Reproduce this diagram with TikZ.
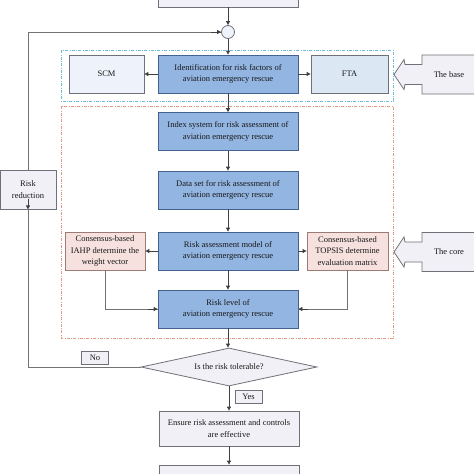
\documentclass[tikz,border=0pt]{standalone}
\usepackage{fontspec}
\setmainfont{Liberation Serif}
\usetikzlibrary{arrows.meta,shapes.geometric}

\definecolor{bluemid}{HTML}{93B5E2}
\definecolor{blueline}{HTML}{42638F}
\definecolor{bluepale}{HTML}{EEF3FB}
\definecolor{bluelight}{HTML}{DCE7F4}
\definecolor{pinkfill}{HTML}{F6E1DF}
\definecolor{pinkline}{HTML}{9C7A76}
\definecolor{lavfill}{HTML}{F1F0F6}
\definecolor{greyline}{HTML}{707078}
\definecolor{cyanframe}{HTML}{6FBFDB}
\definecolor{orangeframe}{HTML}{E59C86}

\tikzset{every node/.style={font=\fontsize{8.5}{11.3}\selectfont, align=center, inner sep=1pt, text=black!90},
    mainbox/.style={draw=blueline, fill=bluemid, line width=0.8pt,
        minimum width=140pt, minimum height=38pt},
    sidebox/.style={draw=greyline, line width=0.8pt, minimum height=38pt},
    methodbox/.style={draw=pinkline, fill=pinkfill, line width=0.8pt,
        minimum width=80pt, minimum height=38pt},
    lavbox/.style={draw=greyline, fill=lavfill, line width=0.8pt},
    tagbox/.style={draw=greyline, fill=lavfill, line width=0.6pt,
        minimum width=27pt, minimum height=13pt},
    frame/.style={line width=0.6pt, dash pattern=on 3pt off 1.5pt on 0.6pt off 1.5pt},
    arr/.style={draw=black!75, line width=0.8pt, -{Triangle[length=4pt,width=4pt]}},
    line/.style={draw=black!55, line width=1pt},
    }

\begin{document}
\begin{tikzpicture}[x=1pt,y=-1pt]
\useasboundingbox (0,0) rectangle (474,474);

% frames
\draw[frame, cyanframe] (61,50) rectangle (393,101);
\draw[frame, orangeframe] (61,106) rectangle (393,338);

% main column
\node[lavbox, minimum width=140pt, minimum height=38pt] (start) at (228,-12) {};
\node[circle, draw=greyline, fill=bluepale, line width=0.8pt, minimum size=13pt, inner sep=0pt] (join) at (228,32) {};
\node[mainbox] (ident) at (228,74) {Identification for risk factors of\\aviation emergency rescue};
\node[sidebox, fill=bluepale, minimum width=75pt] (scm) at (106.5,74) {SCM};
\node[sidebox, fill=bluelight, minimum width=77pt] (fta) at (349.5,74) {FTA};
\node[mainbox] (index) at (228,131.5) {Index system for risk assessment of\\aviation emergency rescue};
\node[mainbox] (dataset) at (228,190) {Data set for risk assessment of\\aviation emergency rescue};
\node[mainbox] (model) at (228,251) {Risk assessment model of\\aviation emergency rescue};
\node[methodbox] (iahp) at (105,251) {Consensus-based\\IAHP determine the\\weight vector};
\node[methodbox, minimum width=81pt] (topsis) at (347.5,251) {Consensus-based\\TOPSIS determine\\evaluation matrix};
\node[mainbox] (level) at (228,309) {Risk level of\\aviation emergency rescue};
\node[diamond, lavbox, aspect=4.6, minimum width=176pt, minimum height=38pt, inner sep=0pt] (tolerable) at (229,367) {Is the risk tolerable?};
\node[lavbox, minimum width=140pt, minimum height=35pt] (ensure) at (229,428.5) {Ensure risk assessment and controls\\are effective};
\node[lavbox, minimum width=140pt, minimum height=38pt] (next) at (229,484) {};
\node[lavbox, minimum width=56pt, minimum height=39pt] (reduction) at (28,189.5) {Risk\\reduction};
\node[tagbox] (no) at (95,357.5) {No};
\node[tagbox] (yes) at (248.5,397) {Yes};

% side arrows
\draw[lavbox] (394,74.5) -- (404,59.5) -- (405,64.5) -- (422,64.5) -- (422,55) -- (480,55)
    -- (480,94) -- (422,94) -- (422,84.5) -- (405,84.5) -- (404,89.5) -- cycle;
\node (base) at (449,74.5) {The base};
\draw[lavbox] (394,252) -- (404,237) -- (405,242) -- (422,242) -- (422,232.5) -- (480,232.5)
    -- (480,271.5) -- (422,271.5) -- (422,262) -- (405,262) -- (404,267) -- cycle;
\node (core) at (449,252) {The core};

% connectors
\draw[arr] (start) -- (join);
\draw[arr] (join) -- (ident);
\draw[arr] (ident) -- (scm);
\draw[arr] (ident) -- (fta);
\draw[arr] (ident) -- (index);
\draw[arr] (index) -- (dataset);
\draw[arr] (dataset) -- (model);
\draw[arr] (model) -- (iahp);
\draw[arr] (model) -- (topsis);
\draw[arr] (model) -- (level);
\draw[line] (iahp.south) |- (level.west);
\draw[arr] ([xshift=-10pt]level.west) -- (level.west);
\draw[line] (topsis.south) |- (level.east);
\draw[arr] ([xshift=10pt]level.east) -- (level.east);
\draw[arr] (level) -- (level.south |- tolerable.north);
\draw[arr] (tolerable) -- (ensure);
\draw[arr] (ensure) -- (next);
\draw[line] (tolerable.west) -| (reduction.south);
\draw[arr] ([yshift=10pt]reduction.south) -- (reduction.south);
\draw[line] (reduction.north) |- (join.west);
\draw[arr] ([xshift=-10pt]join.west) -- (join.west);
\end{tikzpicture}
\end{document}
